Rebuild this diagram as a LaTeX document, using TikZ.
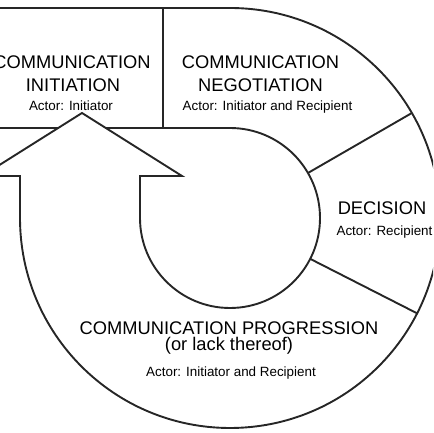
\documentclass[tikz,border=0pt]{standalone}
\usepackage{fontspec}
\setmainfont{Liberation Sans}
\usetikzlibrary{calc}
\tikzset{
  outline/.style={line width=1.9pt, draw=black!85, line join=miter},
  title/.style={anchor=base, inner sep=0pt, font=\fontsize{18.3}{20}\selectfont},
  actor/.style={anchor=base, inner sep=0pt, font=\fontsize{13.4}{15}\selectfont}
}
\begin{document}
\begin{tikzpicture}[x=1pt, y=1pt]
  \useasboundingbox (0,0) rectangle (433,433);
  \clip (0,0) rectangle (433,433);
  \coordinate (c) at (230,215);
  \coordinate (tip) at (82,320);
  \coordinate (hl) at (-18,257);
  \coordinate (hr) at (182,257);
  % ring with the arrow
  \draw[outline] (-30,425) -- (230,425) arc[start angle=90, end angle=-180, radius=210pt]
      -- (20,257) -- (hl) -- (tip) -- (hr) -- (140,257) -- (140,215)
      arc[start angle=180, end angle=450, radius=90pt] -- ($(hr)!{48/63}!(tip)$);
  \draw[outline] ($(hl)!{48/63}!(tip)$) -- (-30,305);
  % dividers
  \draw[outline] (163,305) -- (163,425);
  \draw[outline] ($(c)+(30:90pt)$) -- ($(c)+(30:210pt)$);
  \draw[outline] ($(c)+(-27:90pt)$) -- ($(c)+(-27:210pt)$);
  % labels
  \node[title] (initA) at (72,364.7) {COMMUNICATION};
  \node[title] (initB) at (73,341.3) {INITIATION};
  \node[actor] (initactor) at (71,322) {Actor: Initiator};
  \node[title] (negoA) at (260.5,364.7) {COMMUNICATION};
  \node[title] (negoB) at (260.5,341.3) {NEGOTIATION};
  \node[actor] (negoactor) at (267.5,322) {Actor: Initiator and Recipient};
  \node[title] (dec) at (382,218) {DECISION};
  \node[actor] (decactor) at (384.5,197.3) {Actor: Recipient};
  \node[title] (progA) at (229,98) {COMMUNICATION PROGRESSION};
  \node[title] (progB) at (229,82.5) {(or lack thereof)};
  \node[actor] (progactor) at (231,56) {Actor: Initiator and Recipient};
\end{tikzpicture}
\end{document}
